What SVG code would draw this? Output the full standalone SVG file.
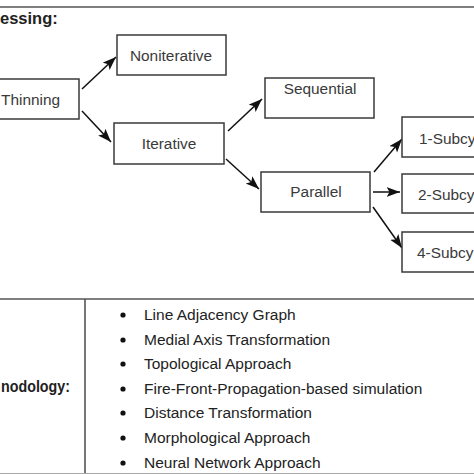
<svg xmlns="http://www.w3.org/2000/svg" width="474" height="474" viewBox="0 0 474 474">
<style>
  .box{fill:#fff;stroke:#3a3a3a;stroke-width:1.5}
  .lbl{font-family:"Liberation Sans",Arial,sans-serif;font-size:15.4px;fill:#3a3a3a;text-anchor:middle}
  .lft{font-family:"Liberation Sans",Arial,sans-serif;font-size:15.4px;fill:#3a3a3a}
  .hd{font-family:"Liberation Sans",Arial,sans-serif;font-size:16.5px;font-weight:bold;fill:#222}
  .item{font-family:"Liberation Sans",Arial,sans-serif;font-size:15.5px;fill:#222}
  .rule{stroke:#555;stroke-width:1.6}
  .conn line{stroke:#111;stroke-width:1.5}
</style>
<defs>
  <marker id="ah" markerUnits="userSpaceOnUse" markerWidth="15" markerHeight="11" refX="13.5" refY="5" orient="auto">
    <path d="M0,0 L13.5,5 L0,10 L3,5 z" fill="#111"/>
  </marker>
</defs>
<rect width="474" height="474" fill="#fff"/>

<g id="frame">
  <line class="rule" x1="0" y1="7" x2="474" y2="7"/>
  <line class="rule" x1="0" y1="299" x2="474" y2="299"/>
  <line class="rule" x1="85" y1="299" x2="85" y2="474"/>
  <line x1="0" y1="473.5" x2="474" y2="473.5" stroke="#aaa" stroke-width="1.2"/>
  <text class="hd" x="0" y="24">essing:</text>
  <text class="hd" x="1" y="392" textLength="69" lengthAdjust="spacingAndGlyphs">nodology:</text>
</g>

<g id="connectors" class="conn">
  <line x1="82" y1="89" x2="116" y2="57" marker-end="url(#ah)"/>
  <line x1="82" y1="111" x2="111" y2="142" marker-end="url(#ah)"/>
  <line x1="228" y1="131" x2="262" y2="99" marker-end="url(#ah)"/>
  <line x1="226" y1="159" x2="259" y2="189" marker-end="url(#ah)"/>
  <line x1="374" y1="172" x2="402" y2="139" marker-end="url(#ah)"/>
  <line x1="373" y1="192" x2="400" y2="192" marker-end="url(#ah)"/>
  <line x1="373" y1="207" x2="402" y2="248" marker-end="url(#ah)"/>
</g>

<g id="thinning">
  <rect class="box" x="-30" y="79" width="109" height="40"/>
  <text class="lft" x="1" y="105">Thinning</text>
</g>
<g id="noniterative">
  <rect class="box" x="117" y="35" width="109" height="40"/>
  <text class="lbl" x="171" y="61">Noniterative</text>
</g>
<g id="iterative">
  <rect class="box" x="114" y="123" width="110" height="41"/>
  <text class="lbl" x="169" y="149">Iterative</text>
</g>
<g id="sequential">
  <rect class="box" x="265" y="78" width="109" height="40"/>
  <text class="lbl" x="320" y="94">Sequential</text>
</g>
<g id="parallel">
  <rect class="box" x="261" y="172" width="109" height="40"/>
  <text class="lbl" x="316" y="197">Parallel</text>
</g>
<g id="sub1">
  <rect class="box" x="402" y="117" width="109" height="40"/>
  <text class="lft" x="419" y="144">1-Subcy</text>
</g>
<g id="sub2">
  <rect class="box" x="402" y="174" width="109" height="39"/>
  <text class="lft" x="418" y="200">2-Subcy</text>
</g>
<g id="sub4">
  <rect class="box" x="402" y="232" width="109" height="40"/>
  <text class="lft" x="417" y="258">4-Subcy</text>
</g>

<g id="methods">
  <circle cx="123" cy="315" r="2.6" fill="#111"/>
  <text class="item" x="144" y="320">Line Adjacency Graph</text>
  <circle cx="123" cy="340" r="2.6" fill="#111"/>
  <text class="item" x="144" y="345">Medial Axis Transformation</text>
  <circle cx="123" cy="364" r="2.6" fill="#111"/>
  <text class="item" x="144" y="369">Topological Approach</text>
  <circle cx="123" cy="389" r="2.6" fill="#111"/>
  <text class="item" x="144" y="394">Fire-Front-Propagation-based simulation</text>
  <circle cx="123" cy="413" r="2.6" fill="#111"/>
  <text class="item" x="144" y="418">Distance Transformation</text>
  <circle cx="123" cy="438" r="2.6" fill="#111"/>
  <text class="item" x="144" y="443">Morphological Approach</text>
  <circle cx="123" cy="463" r="2.6" fill="#111"/>
  <text class="item" x="144" y="468">Neural Network Approach</text>
</g>
</svg>
